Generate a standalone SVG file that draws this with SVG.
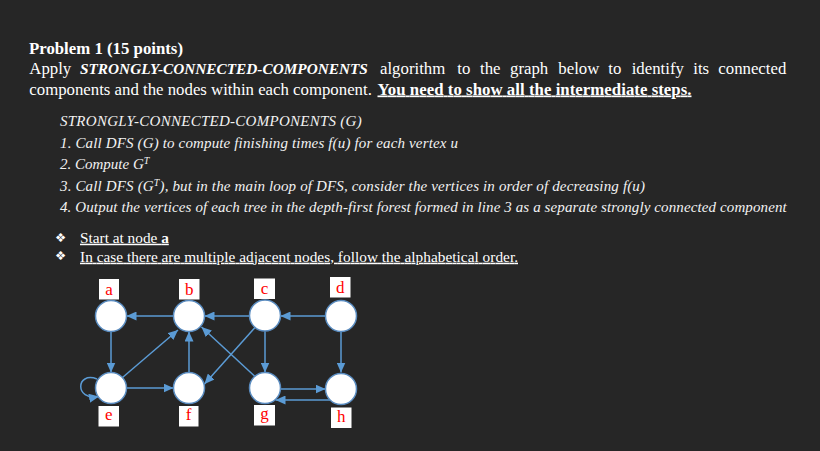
<svg xmlns="http://www.w3.org/2000/svg" width="820" height="451" viewBox="0 0 820 451">
<style>
.bg{fill:#262626}
.t{font-family:"Liberation Serif","Times New Roman",serif;fill:#ffffff}
.p{font-size:16.8px}
.b{font-weight:bold}
.bi{font-weight:bold;font-style:italic;font-size:15.3px}
.it{font-family:"Liberation Serif","Times New Roman",serif;font-style:italic;font-size:15px;fill:#f2f2f2}
.bl{font-family:"Liberation Serif","Times New Roman",serif;font-size:15.3px;fill:#ffffff;text-decoration:underline}
.dia{font-family:"DejaVu Sans",sans-serif;font-size:12.5px;fill:#ffffff}
.node circle{fill:#ffffff;stroke:#5a8cc0;stroke-width:1.5}
.node rect{fill:#ffffff}
.node text{font-family:"Liberation Serif","Times New Roman",serif;font-size:17px;fill:#ff0000;text-anchor:middle}
.edge{stroke:#5b9bd5;stroke-width:1.5;fill:none;marker-end:url(#arr)}
</style>
<defs>
<marker id="arr" markerUnits="userSpaceOnUse" markerWidth="10" markerHeight="9" refX="10" refY="4.5" orient="auto">
<path d="M0,0 L10,4.5 L0,9 z" fill="#5b9bd5"/>
</marker>
</defs>
<rect class="bg" x="0" y="0" width="820" height="451"/>

<text class="t p b" x="29" y="54">Problem 1 (15 points)</text>
<g class="t p">
<text x="29.3" y="73.5">Apply</text>
<text x="80" y="73.5" class="bi">STRONGLY-CONNECTED-COMPONENTS</text>
<text x="380" y="73.5">algorithm</text>
<text x="457.3" y="73.5">to</text>
<text x="480" y="73.5">the</text>
<text x="510" y="73.5">graph</text>
<text x="558.3" y="73.5">below</text>
<text x="608.3" y="73.5">to</text>
<text x="631.7" y="73.5">identify</text>
<text x="693.3" y="73.5">its</text>
<text x="718.3" y="73.5">connected</text>
<text x="29.3" y="94.5">components and the nodes within each component.</text>
<text x="377.5" y="94.5" class="b" text-decoration="underline" textLength="314" lengthAdjust="spacing">You need to show all the intermediate steps.</text>
</g>

<text class="it" x="60" y="126" textLength="301.7" lengthAdjust="spacing">STRONGLY-CONNECTED-COMPONENTS (G)</text>
<text class="it" x="60" y="148" textLength="398" lengthAdjust="spacing">1. Call DFS (G) to compute finishing times f(u) for each vertex u</text>
<text class="it" x="60" y="169">2. Compute G<tspan font-size="10" dy="-5">T</tspan></text>
<text class="it" x="60" y="191" textLength="585" lengthAdjust="spacing">3. Call DFS (G<tspan font-size="10" dy="-5">T</tspan><tspan dy="5">), but in the main loop of DFS, consider the vertices in order of decreasing f(u)</tspan></text>
<text class="it" x="60" y="212" textLength="726.7" lengthAdjust="spacing">4. Output the vertices of each tree in the depth-first forest formed in line 3 as a separate strongly connected component</text>

<text class="dia" x="55" y="241.5">❖</text>
<text class="bl" x="80" y="242.7">Start at node <tspan font-weight="bold">a</tspan></text>
<text class="dia" x="55" y="260">❖</text>
<text class="bl" x="80" y="261.7" textLength="438" lengthAdjust="spacing">In case there are multiple adjacent nodes, follow the alphabetical order.</text>

<g id="connectors">
<line class="edge" x1="173.5" y1="316" x2="126.5" y2="316"/>
<line class="edge" x1="249.5" y1="316" x2="204.5" y2="316"/>
<line class="edge" x1="325.5" y1="316" x2="280.5" y2="316"/>
<line class="edge" x1="111" y1="331.5" x2="111" y2="372.5"/>
<line class="edge" x1="189" y1="372.5" x2="189" y2="331.5"/>
<line class="edge" x1="265" y1="331.5" x2="265" y2="372.5"/>
<line class="edge" x1="341" y1="331.5" x2="341" y2="372.5"/>
<line class="edge" x1="126.5" y1="388" x2="173.5" y2="388"/>
<line class="edge" x1="280.5" y1="389" x2="325.5" y2="389"/>
<line class="edge" x1="330.5" y1="400" x2="275.5" y2="400"/>
<line class="edge" x1="122.5" y1="377.5" x2="178" y2="330"/>
<line class="edge" x1="255" y1="327.5" x2="204.5" y2="384"/>
<line class="edge" x1="255" y1="376.5" x2="201.5" y2="327"/>
<path class="edge" d="M97,379 C76,371 74,401 99,396.5"/>
</g>

<g id="node-a" class="node"><circle cx="111" cy="316" r="15.5"/><rect x="99" y="279" width="20" height="20.5"/><text x="109" y="295">a</text></g>
<g id="node-b" class="node"><circle cx="189" cy="316" r="15.5"/><rect x="179" y="279" width="20.5" height="20.5"/><text x="189.2" y="295">b</text></g>
<g id="node-c" class="node"><circle cx="265" cy="315.5" r="15.5"/><rect x="254" y="278.5" width="21" height="20.5"/><text x="264.5" y="294.3">c</text></g>
<g id="node-d" class="node"><circle cx="341" cy="316" r="15.5"/><rect x="330" y="277" width="20.5" height="20.5"/><text x="340.3" y="293.3">d</text></g>
<g id="node-e" class="node"><circle cx="111" cy="388" r="15.5"/><rect x="98.5" y="406" width="20.5" height="20.5"/><text x="108.7" y="420">e</text></g>
<g id="node-f" class="node"><circle cx="189" cy="388" r="15.5"/><rect x="179" y="406" width="19.5" height="20.5"/><text x="188.7" y="420">f</text></g>
<g id="node-g" class="node"><circle cx="265" cy="388" r="15.5"/><rect x="254" y="405" width="21" height="20.5"/><text x="264.5" y="418.5">g</text></g>
<g id="node-h" class="node"><circle cx="341" cy="389" r="15.5"/><rect x="331" y="407.5" width="20.5" height="20.5"/><text x="341.2" y="421.7">h</text></g>
</svg>
